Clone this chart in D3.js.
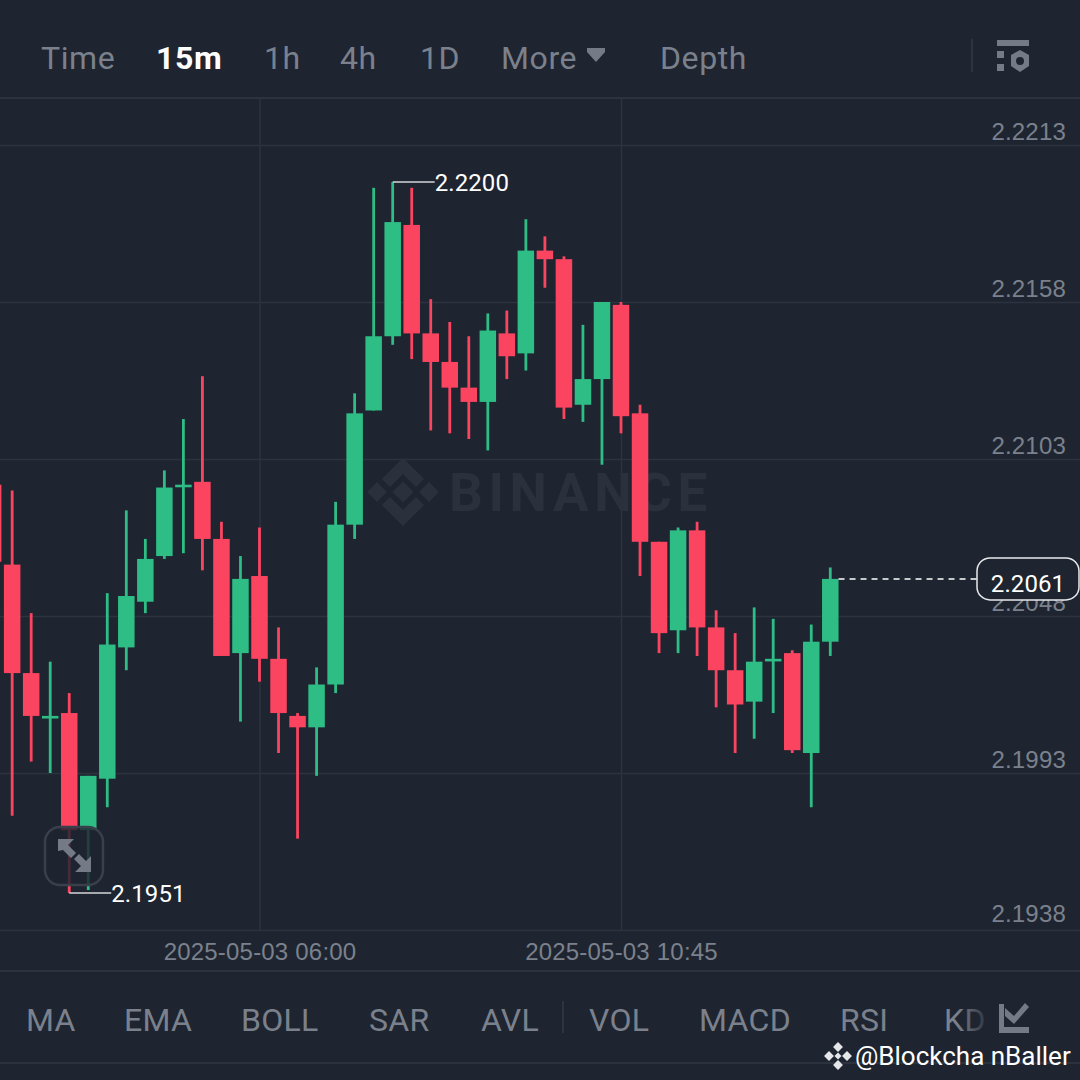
<!DOCTYPE html>
<html>
<head>
<meta charset="utf-8">
<script src="https://cdn.jsdelivr.net/npm/d3@7"></script>
<style>
  html, body { margin: 0; padding: 0; background: #1e2530; }
  svg { display: block; font-family: Roboto, sans-serif; }
  .tick-label { fill: #7b818c; font-size: 24px; letter-spacing: 0.2px; }
  .menu { fill: #7b818c; font-size: 32px; letter-spacing: 0.3px; }
  .mark { fill: #fff; font-size: 24px; letter-spacing: 0.1px; }
</style>
</head>
<body>
<div id="chart"></div>
<script>
const opens = [2.2094, 2.2066, 2.2028, 2.2013, 2.2014, 2.1973, 2.1991, 2.2037, 2.2053, 2.2069, 2.2094, 2.2095, 2.2075, 2.2035, 2.2062, 2.2033, 2.2013, 2.2009, 2.2024, 2.2080, 2.2120, 2.2146, 2.2185, 2.2147, 2.2137, 2.2128, 2.2123, 2.2147, 2.2140, 2.2176, 2.2173, 2.2122, 2.2131, 2.2157, 2.2119, 2.2074, 2.2043, 2.2078, 2.2044, 2.2029, 2.2018, 2.2033, 2.2035, 2.2000, 2.2039];
const highs = [2.2096, 2.2092, 2.2049, 2.2032, 2.2021, 2.1992, 2.2056, 2.2085, 2.2075, 2.2099, 2.2117, 2.2132, 2.2081, 2.2069, 2.2079, 2.2044, 2.2014, 2.2030, 2.2088, 2.2126, 2.2198, 2.2200, 2.2198, 2.2159, 2.2151, 2.2146, 2.2154, 2.2155, 2.2187, 2.2181, 2.2174, 2.2150, 2.2158, 2.2158, 2.2122, 2.2074, 2.2079, 2.2081, 2.2050, 2.2042, 2.2051, 2.2047, 2.2036, 2.2045, 2.2065];
const lows = [2.2064, 2.1978, 2.1997, 2.1993, 2.1951, 2.1952, 2.1981, 2.2029, 2.2049, 2.2068, 2.2070, 2.2064, 2.2034, 2.2011, 2.2025, 2.2000, 2.1970, 2.1992, 2.2021, 2.2075, 2.2120, 2.2143, 2.2138, 2.2113, 2.2112, 2.2110, 2.2106, 2.2131, 2.2134, 2.2163, 2.2117, 2.2116, 2.2101, 2.2112, 2.2062, 2.2035, 2.2035, 2.2034, 2.2016, 2.2000, 2.2005, 2.2014, 2.2000, 2.1981, 2.2034];
const closes = [2.2067, 2.2028, 2.2013, 2.2013, 2.1973, 2.1992, 2.2038, 2.2055, 2.2068, 2.2093, 2.2094, 2.2075, 2.2034, 2.2061, 2.2033, 2.2014, 2.2009, 2.2024, 2.2080, 2.2119, 2.2146, 2.2186, 2.2147, 2.2137, 2.2128, 2.2123, 2.2148, 2.2139, 2.2176, 2.2173, 2.2121, 2.2131, 2.2158, 2.2118, 2.2074, 2.2042, 2.2078, 2.2044, 2.2029, 2.2017, 2.2032, 2.2033, 2.2001, 2.2039, 2.2061];

const priceTicks = [2.2213, 2.2158, 2.2103, 2.2048, 2.1993, 2.1938];
const timeMenu = ['Time', '15m', '1h', '4h', '1D', 'More', 'Depth'];
const timeMenuX = [41, 156, 264, 340, 420, 501, 660];
const indicators = ['MA', 'EMA', 'BOLL', 'SAR', 'AVL', 'VOL', 'MACD', 'RSI', 'KD'];
const indicatorsX = [26, 124, 241, 369, 481, 589, 699, 840, 944];
const highMark = 2.2200;
const lowMark = 2.1951;
const lastPrice = 2.2061;

const green = '#2ebd85';
const red = '#fb4560';
const bg = '#1e2530';
const gridColor = '#2c323e';
const width = 1080;
const height = 1080;

const t0 = new Date(2025, 4, 3, 2, 30);
const data = highs.map((h, i) => ({
  time: d3.timeMinute.offset(t0, i * 15),
  open: opens[i],
  high: h,
  low: lows[i],
  close: closes[i]
}));

const svg = d3
  .select('#chart')
  .append('svg')
  .attr('width', width)
  .attr('height', height);

svg.append('rect').attr('width', width).attr('height', height).attr('fill', bg);

const timeDates = [new Date(2025, 4, 3, 6, 0), new Date(2025, 4, 3, 10, 45)];

// 06:00 sits at 259.5 and 10:45 at 621
const x = d3.scaleTime().domain(timeDates).range([259.5, 621]);
const y = d3.scaleLinear().domain([2.2213, 2.1938]).range([145, 930]);
const bodyW = 16.5;

// frame lines
[98, 971, 1063].forEach((ly) => {
  svg.append('line').attr('x1', 0).attr('x2', width).attr('y1', ly).attr('y2', ly)
    .attr('stroke', gridColor).attr('stroke-width', 2);
});

// price axis
const yAxis = svg.append('g').call(
  d3.axisRight(y).tickValues(priceTicks).tickSize(width).tickFormat(d3.format('.4f'))
);
yAxis.select('.domain').remove();
yAxis.selectAll('line').attr('stroke', gridColor).attr('stroke-width', 1.5);
yAxis.selectAll('text')
  .attr('class', 'tick-label')
  .attr('text-anchor', 'end')
  .attr('x', 1066)
  .attr('y', (d) => (d === 2.1938 ? -9 : -6))
  .attr('dy', 0);

// time axis
const xAxis = svg.append('g').attr('transform', 'translate(0,930)').call(
  d3.axisBottom(x).tickValues(timeDates).tickSize(-831).tickFormat(d3.timeFormat('%Y-%m-%d %H:%M'))
);
xAxis.select('.domain').remove();
xAxis.selectAll('line').attr('stroke', gridColor).attr('stroke-width', 1.5);
xAxis.selectAll('text').attr('class', 'tick-label').attr('y', 30).attr('dy', 0);

// BINANCE watermark
const wm = svg.append('g').attr('fill', '#2a303c');
const logo = wm.append('g').attr('transform', 'translate(403,492)');
logo.append('rect').attr('x', -7.5).attr('y', -7.5).attr('width', 15).attr('height', 15).attr('transform', 'rotate(45)');
logo.append('rect').attr('x', -33).attr('y', -7).attr('width', 14).attr('height', 14).attr('transform', 'rotate(45 -26 0)');
logo.append('rect').attr('x', 19).attr('y', -7).attr('width', 14).attr('height', 14).attr('transform', 'rotate(45 26 0)');
logo.append('path').attr('d', 'M0,-34 L21,-13 L13,-5 L0,-18 L-13,-5 L-21,-13 Z');
logo.append('path').attr('d', 'M0,34 L21,13 L13,5 L0,18 L-13,5 L-21,13 Z');
wm.append('text')
  .attr('x', 449).attr('y', 511)
  .attr('font-size', 53).attr('font-weight', 700).attr('letter-spacing', 5.6)
  .text('BINANCE');

// candles
const candles = svg
  .selectAll('.candle')
  .data(data)
  .enter()
  .append('g')
  .attr('class', 'candle')
  .attr('fill', (d) => (d.close >= d.open ? green : red))
  .attr('stroke', (d) => (d.close >= d.open ? green : red));

candles.append('line')
  .attr('x1', (d) => x(d.time))
  .attr('x2', (d) => x(d.time))
  .attr('y1', (d) => y(d.high))
  .attr('y2', (d) => y(d.low))
  .attr('stroke-width', 2.8);

candles.append('rect')
  .attr('stroke', 'none')
  .attr('x', (d) => x(d.time) - bodyW / 2)
  .attr('width', bodyW)
  .attr('y', (d) => y(Math.max(d.open, d.close)))
  .attr('height', (d) => Math.max(2.6, Math.abs(y(d.open) - y(d.close))));

// high and low markers
const highD = data.find((d) => d.high === highMark);
const lowD = data.find((d) => d.low === lowMark);
[[highD, highMark], [lowD, lowMark]].forEach(([d, v]) => {
  svg.append('line')
    .attr('x1', x(d.time)).attr('x2', x(d.time) + 42)
    .attr('y1', y(v)).attr('y2', y(v))
    .attr('stroke', '#d5d7da').attr('stroke-width', 1.5);
  svg.append('text').attr('class', 'mark')
    .attr('x', x(d.time) + 42).attr('y', y(v) + 9)
    .text(d3.format('.4f')(v));
});

// last price
const lastD = data[data.length - 1];
svg.append('line')
  .attr('x1', x(lastD.time) + bodyW / 2).attr('x2', 977)
  .attr('y1', y(lastPrice)).attr('y2', y(lastPrice))
  .attr('stroke', '#fff').attr('stroke-width', 1.5).attr('stroke-dasharray', '6 5');
svg.append('rect')
  .attr('x', 977).attr('y', y(lastPrice) - 21).attr('width', 102).attr('height', 42).attr('rx', 13)
  .attr('fill', bg).attr('stroke', '#e8e9eb').attr('stroke-width', 1.5);
svg.append('text').attr('class', 'mark')
  .attr('x', 1028).attr('y', y(lastPrice) + 13).attr('text-anchor', 'middle')
  .text(d3.format('.4f')(lastPrice));

// fullscreen button over the candles
const btn = svg.append('g');
btn.append('rect')
  .attr('x', 45).attr('y', 827).attr('width', 58).attr('height', 58).attr('rx', 15)
  .attr('fill', bg).attr('fill-opacity', 0.82).attr('stroke', '#3a404b').attr('stroke-width', 2.5);
btn.append('path').attr('fill', '#757b86')
  .attr('d', 'M58,839 L74,839 L68,845 L76,853 L71,858 L63,850 L58,851 Z');
btn.append('path').attr('fill', '#757b86')
  .attr('d', 'M91,872 L75,872 L81,866 L74,859 L79,854 L86,861 L91,856 Z');

// top menu
svg.selectAll('.top')
  .data(timeMenu)
  .enter()
  .append('text')
  .attr('class', 'menu')
  .attr('x', (d, i) => timeMenuX[i])
  .attr('y', 69)
  .attr('letter-spacing', 0.6)
  .style('letter-spacing', '0.6px')
  .attr('font-weight', (d) => (d === '15m' ? 700 : 400))
  .style('fill', (d) => (d === '15m' ? '#fff' : null))
  .text((d) => d);
svg.append('path').attr('fill', '#757b86').attr('d', 'M587,48 L605,48 L605,52 L596,62 L587,52 Z');
svg.append('line').attr('x1', 972).attr('x2', 972).attr('y1', 39).attr('y2', 72).attr('stroke', '#343a45').attr('stroke-width', 1.5);
const cfg = svg.append('g').attr('fill', '#757b86');
cfg.append('rect').attr('x', 997).attr('y', 40).attr('width', 32).attr('height', 6);
cfg.append('rect').attr('x', 997).attr('y', 51).attr('width', 7).attr('height', 7);
cfg.append('rect').attr('x', 997).attr('y', 64).attr('width', 7).attr('height', 7);
cfg.append('path').attr('d', 'M1020,50 L1029,55 L1029,66 L1020,72 L1011,66 L1011,55 Z');
cfg.append('circle').attr('cx', 1020).attr('cy', 61).attr('r', 4).attr('fill', bg);

// indicator menu, the last item fades out under the icon
const fade = svg.append('defs').append('linearGradient')
  .attr('id', 'fade').attr('gradientUnits', 'userSpaceOnUse')
  .attr('x1', 958).attr('x2', 992).attr('y1', 0).attr('y2', 0);
fade.append('stop').attr('offset', 0).attr('stop-color', '#7b818c');
fade.append('stop').attr('offset', 1).attr('stop-color', bg);

svg.selectAll('.ind')
  .data(indicators)
  .enter()
  .append('text')
  .attr('class', 'menu')
  .attr('x', (d, i) => indicatorsX[i])
  .attr('y', 1031)
  .style('fill', (d) => (d === 'KD' ? 'url(#fade)' : null))
  .text((d) => d);
svg.append('line').attr('x1', 563).attr('x2', 563).attr('y1', 1001).attr('y2', 1033).attr('stroke', '#343a45').attr('stroke-width', 1.5);
const ic = svg.append('g').attr('fill', '#757b86');
ic.append('path').attr('d', 'M999,1004 L1004,1004 L1004,1027 L1029,1027 L1029,1033 L999,1033 Z');
ic.append('path').attr('d', 'M1005,1008 L1014,1016 L1025,1003 L1029,1007 L1014,1024 L1005,1016 Z');

// author tag
const tag = svg.append('g').attr('fill', '#e4e6ea').attr('transform', 'translate(838,1056)');
[[0, -9], [0, 9], [-9, 0], [9, 0]].forEach(([dx, dy]) => {
  tag.append('rect').attr('x', dx - 3.5).attr('y', dy - 3.5).attr('width', 7).attr('height', 7)
    .attr('transform', `rotate(45 ${dx} ${dy})`);
});
tag.append('rect').attr('x', -2.5).attr('y', -2.5).attr('width', 5).attr('height', 5).attr('transform', 'rotate(45)');
svg.append('text')
  .attr('x', 855).attr('y', 1065)
  .attr('fill', '#fff').attr('font-size', 26)
  .text('@Blockcha nBaller');
</script>
</body>
</html>
